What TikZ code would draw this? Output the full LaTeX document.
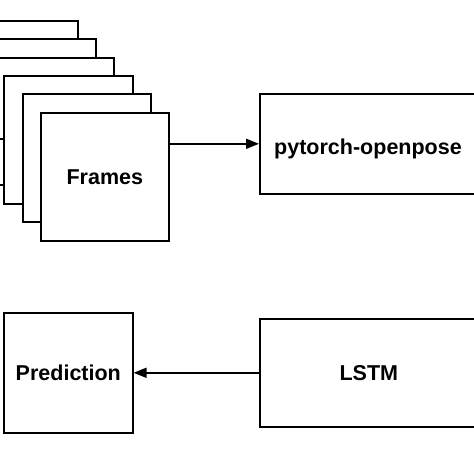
\documentclass[tikz,border=0pt]{standalone}
\usepackage{fontspec}
\setmainfont{Liberation Sans}
\usetikzlibrary{arrows.meta}
\begin{document}
\begin{tikzpicture}[x=1pt,y=-1pt,
  box/.style={draw=black, line width=1.6pt, fill=white, inner sep=0pt, anchor=north west},
  lbl/.style={font=\fontsize{21.5}{26}\selectfont\bfseries},
  conn/.style={line width=1.6pt, -{Triangle[length=13pt,width=10pt]}}]
\useasboundingbox (0,0) rectangle (474,474);
\fill[white] (0,0) rectangle (474,474);
\clip (0,0) rectangle (474,474);
% stacked frames, back to front
\node[box, minimum width=137pt, minimum height=119pt] (f1) at (-60,20) {};
\node[box, minimum width=155pt, minimum height=101pt] (f2) at (-60,38) {};
\node[box, minimum width=173pt, minimum height=127pt] (f3) at (-60,57) {};
\draw[line width=1.6pt] (-10,139) -- (4,139);
\node[box, minimum width=129pt, minimum height=128pt] (f4) at (3,75) {};
\node[box, minimum width=128pt, minimum height=128pt] (f5) at (22,93) {};
\node[box, lbl, minimum width=128pt, minimum height=128pt] (f6) at (40,112) {Frames};
% pytorch-openpose
\node[box, minimum width=218pt, minimum height=100pt] (pose) at (259,93) {};
\node[lbl, anchor=base] (posetext) at (368,154) {pytorch-openpose};
% bottom row
\node[box, lbl, minimum width=218pt, minimum height=108pt] (lstm) at (259,318) {LSTM};
\node[box, lbl, minimum width=129pt, minimum height=120pt] (pred) at (3,312) {Prediction};
% connectors
\draw[conn] (f6.east |- pose.west) -- (pose.west);
\draw[conn] (lstm.west) -- (pred.east);
\end{tikzpicture}
\end{document}
